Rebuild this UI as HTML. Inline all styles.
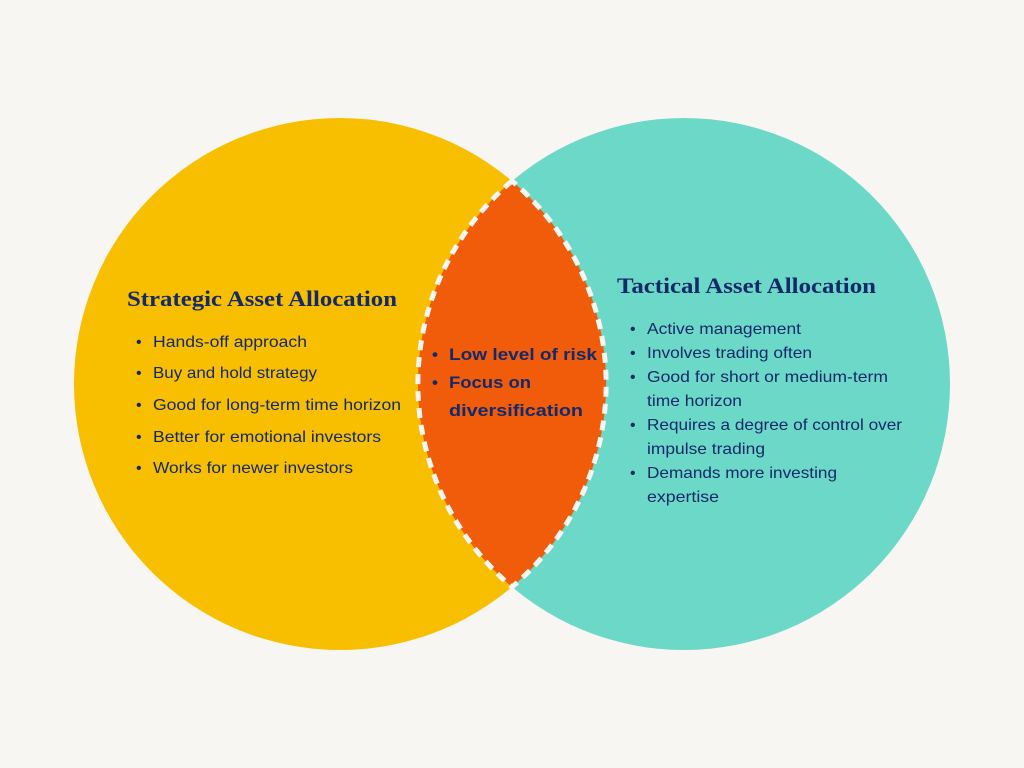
<!DOCTYPE html>
<html><head><meta charset="utf-8"><style>
html,body{margin:0;padding:0;background:#f7f6f2;}
svg{display:block}
.t{font-family:"Liberation Serif",serif;font-weight:bold;font-size:22px;fill:#13296a}
.b{font-family:"Liberation Sans",sans-serif;font-size:16px;fill:#13296a}
.c{font-family:"Liberation Sans",sans-serif;font-size:17px;font-weight:bold;fill:#13296a}
</style></head><body>
<svg width="1024" height="768" viewBox="0 0 1024 768">
<rect width="1024" height="768" fill="#f7f6f2"/>
<circle cx="340" cy="384" r="266" fill="#f8bf00"/>
<circle cx="684" cy="384" r="266" fill="#6cd8c7"/>
<path d="M512,181 A266,266 0 0 0 512,587 A266,266 0 0 0 512,181 Z" fill="#f05c0a" stroke="#f7f6f2" stroke-width="5" stroke-dasharray="10,7"/>
<text class="t" x="127" y="306" textLength="270" lengthAdjust="spacingAndGlyphs">Strategic Asset Allocation</text>
<g class="b">
<text x="136" y="347">•</text><text x="153" y="347" textLength="154" lengthAdjust="spacingAndGlyphs">Hands-off approach</text>
<text x="136" y="378">•</text><text x="153" y="378" textLength="164" lengthAdjust="spacingAndGlyphs">Buy and hold strategy</text>
<text x="136" y="410">•</text><text x="153" y="410" textLength="248" lengthAdjust="spacingAndGlyphs">Good for long-term time horizon</text>
<text x="136" y="442">•</text><text x="153" y="442" textLength="228" lengthAdjust="spacingAndGlyphs">Better for emotional investors</text>
<text x="136" y="473">•</text><text x="153" y="473" textLength="200" lengthAdjust="spacingAndGlyphs">Works for newer investors</text>
</g>
<text class="t" x="617" y="293" textLength="259" lengthAdjust="spacingAndGlyphs">Tactical Asset Allocation</text>
<g class="b">
<text x="630" y="334">•</text><text x="647" y="334" textLength="154" lengthAdjust="spacingAndGlyphs">Active management</text>
<text x="630" y="358">•</text><text x="647" y="358" textLength="165" lengthAdjust="spacingAndGlyphs">Involves trading often</text>
<text x="630" y="382">•</text><text x="647" y="382" textLength="241" lengthAdjust="spacingAndGlyphs">Good for short or medium-term</text>
<text x="647" y="406" textLength="95" lengthAdjust="spacingAndGlyphs">time horizon</text>
<text x="630" y="430">•</text><text x="647" y="430" textLength="255" lengthAdjust="spacingAndGlyphs">Requires a degree of control over</text>
<text x="647" y="454" textLength="118" lengthAdjust="spacingAndGlyphs">impulse trading</text>
<text x="630" y="478">•</text><text x="647" y="478" textLength="190" lengthAdjust="spacingAndGlyphs">Demands more investing</text>
<text x="647" y="502" textLength="72" lengthAdjust="spacingAndGlyphs">expertise</text>
</g>
<g class="c">
<text x="432" y="360">•</text><text x="449" y="360" textLength="148" lengthAdjust="spacingAndGlyphs">Low level of risk</text>
<text x="432" y="388">•</text><text x="449" y="388" textLength="82" lengthAdjust="spacingAndGlyphs">Focus on</text>
<text x="449" y="416" textLength="134" lengthAdjust="spacingAndGlyphs">diversification</text>
</g>
</svg>
</body></html>
